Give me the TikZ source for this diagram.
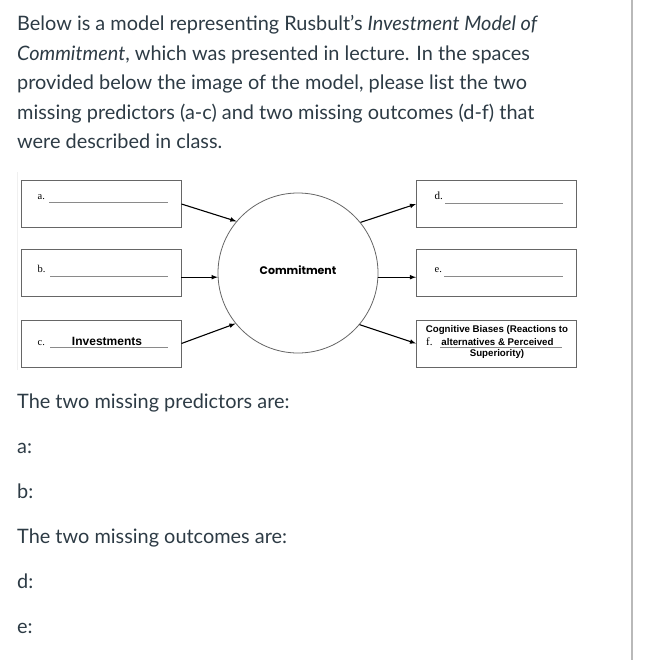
\documentclass[tikz,border=0pt]{standalone}
\usepackage{fontspec}
\setmainfont{Lato}
\newfontfamily\boxserif{Liberation Serif}
\newfontfamily\boxsans{Liberation Sans}
\newfontfamily\commfont{Poppins}
\definecolor{bodytext}{HTML}{2D3B45}
\definecolor{boxline}{HTML}{666666}
\definecolor{ruleline}{HTML}{8A8A8A}

\tikzset{
  para/.style={anchor=base west, inner sep=0pt, text=bodytext,
    font=\fontsize{19.9}{24}\selectfont},
  fieldbox/.style={draw=boxline, line width=0.9pt, minimum width=160pt,
    minimum height=47pt, inner sep=0pt},
  letterlbl/.style={anchor=base west, inner sep=0pt,
    font=\boxserif\fontsize{10.5}{11}\selectfont},
  boldlbl/.style={inner sep=0pt, font=\boxsans\bfseries\fontsize{9.7}{11}\selectfont},
  uline/.style={draw=ruleline, line width=0.8pt},
  link/.style={-latex, line width=1.1pt}
}

\begin{document}
\begin{tikzpicture}[x=1pt,y=-1pt]
  \useasboundingbox (0,0) rectangle (653,660);
  \draw[gray!55, line width=1.3pt] (632,0)--(632,660);
  \draw[gray!12, line width=0.8pt] (17,172)--(17,370);

  % question text
  \node[para] (q1) at (17,31) {Below is a model representing Rusbult's \textit{Investment Model of}};
  \node[para] (q2) at (17,60.5) {\textit{Commitment}, which was presented in lecture. In the spaces};
  \node[para] (q3) at (17,90) {provided below the image of the model, please list the two};
  \node[para] (q4) at (17,119.5) {missing predictors (a-c) and two missing outcomes (d-f) that};
  \node[para] (q5) at (17,149) {were described in class.};

  % model
  \node[draw=boxline, line width=0.8pt, circle, minimum size=160pt, inner sep=0pt] (comm) at (298,273) {};
  \node[inner sep=0pt, font=\commfont\bfseries\fontsize{11}{13}\selectfont] (commlbl) at (298,270) {Commitment};

  \node[fieldbox] (a) at (101,204) {};
  \node[fieldbox] (b) at (101,273) {};
  \node[fieldbox] (c) at (101,343.5) {};
  \node[fieldbox] (d) at (496.5,204) {};
  \node[fieldbox] (e) at (496.5,273) {};
  \node[fieldbox] (f) at (496.5,343.5) {};

  \node[letterlbl] (alab) at (37.5,200) {a.};
  \draw[uline] (49,202.5)--(168,202.5);
  \node[letterlbl] (blab) at (37.5,272) {b.};
  \draw[uline] (50,276)--(168,276);
  \node[letterlbl] (clab) at (37.5,345) {c.};
  \draw[uline] (50,347.5)--(168,347.5);
  \node[boldlbl, font=\boxsans\bfseries\fontsize{12}{13}\selectfont, anchor=base] (inv) at (107,345.5) {Investments};
  \node[letterlbl, font=\boxserif\fontsize{11}{11}\selectfont] (dlab) at (434.5,200) {d.};
  \draw[uline] (445,203)--(563,203);
  \node[letterlbl] (elab) at (434.5,272) {e.};
  \draw[uline] (444,276.5)--(563,276.5);
  \node[letterlbl, font=\boxserif\fontsize{11}{12}\selectfont] (flab) at (426,345.5) {f.};
  \draw[uline] (440,347.5)--(562,347.5);
  \node[boldlbl] (f1) at (497,330.5) {Cognitive Biases (Reactions to};
  \node[boldlbl] (f2) at (497.5,342) {alternatives \& Perceived};
  \node[boldlbl] (f3) at (497,353.5) {Superiority)};

  \draw[link] (a.east)--(comm.140.6);
  \draw[link] (b.east |- comm.183)--(comm.183);
  \draw[link] (c.east)--(comm.219.8);
  \draw[link] (comm.39.4)--(d.west);
  \draw[link] (comm.-3)--(e.west |- comm.-3);
  \draw[link] (comm.-40)--(f.west);

  % answers
  \node[para] (p1) at (17,408) {The two missing predictors are:};
  \node[para] (pa) at (17,453) {a:};
  \node[para] (pb) at (17,498) {b:};
  \node[para] (p2) at (17,543) {The two missing outcomes are:};
  \node[para] (pd) at (17,588) {d:};
  \node[para] (pe) at (17,633) {e:};
\end{tikzpicture}
\end{document}
